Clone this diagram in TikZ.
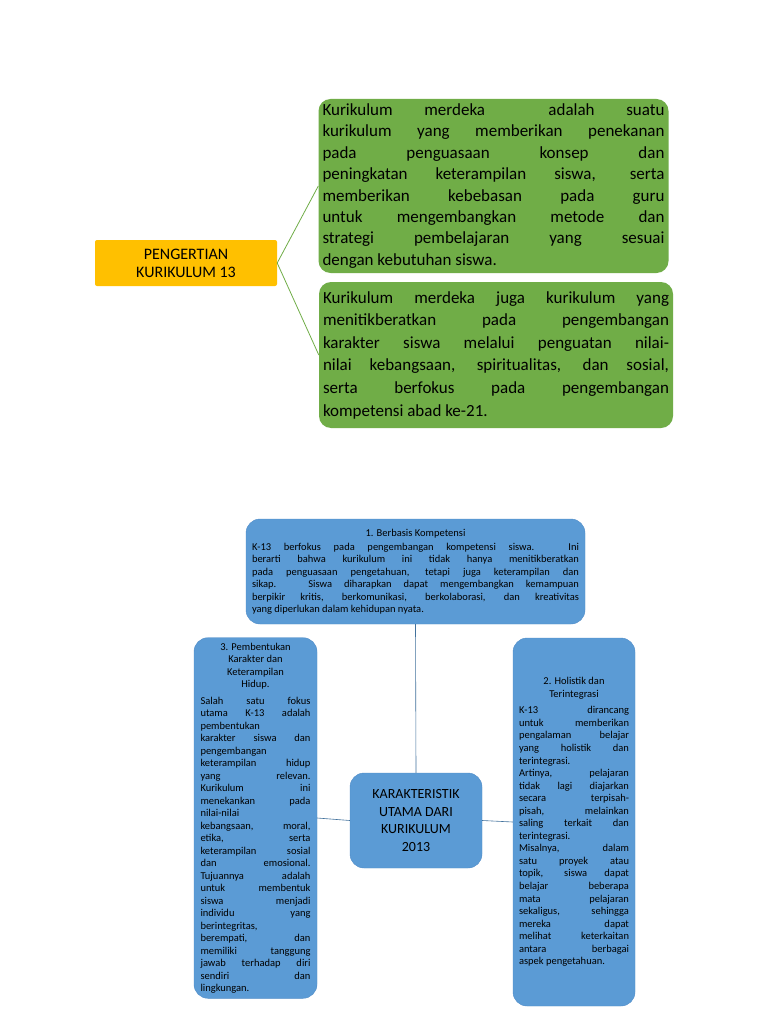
\documentclass[tikz,border=0pt]{standalone}
\usepackage{fontspec}
\setmainfont{Carlito}
\begin{document}
\begin{tikzpicture}[x=1pt,y=-1pt,
  greenbox/.style={draw=none,fill={rgb,255:red,112;green,173;blue,71},rounded corners=12pt,inner sep=4pt,align=justify},
  bluebox/.style={draw={rgb,255:red,80;green,140;blue,200},fill={rgb,255:red,91;green,155;blue,213},rounded corners=14pt,inner sep=5pt,align=justify},
  gline/.style={draw={rgb,255:red,112;green,173;blue,71},line width=0.8pt},
  bline/.style={draw={rgb,255:red,65;green,113;blue,156},line width=0.6pt}]
\useasboundingbox[fill=white] (0,0) rectangle (768,1024);
\node[fill={rgb,255:red,255;green,192;blue,0},rounded corners=2pt,minimum width=182pt,minimum height=46pt,align=center,inner sep=0pt,font=\fontsize{16}{18}\selectfont] (peng) at (186,263) {PENGERTIAN\\KURIKULUM 13};
\node[greenbox,minimum width=349pt,minimum height=174pt,text width=342pt,font=\fontsize{17}{21.4}\selectfont] (g1) at (493.5,186) {Kurikulum merdeka\ \ adalah suatu\linebreak kurikulum yang memberikan penekanan\linebreak pada penguasaan konsep dan\linebreak peningkatan keterampilan siswa, serta\linebreak memberikan kebebasan pada guru\linebreak untuk mengembangkan metode dan\linebreak strategi pembelajaran yang sesuai\linebreak dengan kebutuhan siswa.};
\node[greenbox,minimum width=354pt,minimum height=146pt,text width=346pt,font=\fontsize{17}{22.6}\selectfont] (g2) at (496,355) {Kurikulum merdeka juga kurikulum yang\linebreak menitikberatkan pada pengembangan\linebreak karakter siswa melalui penguatan nilai-\linebreak nilai kebangsaan, spiritualitas, dan sosial,\linebreak serta berfokus pada pengembangan\linebreak kompetensi abad ke-21.};
\draw[gline] (peng.east) -- (g1.west);
\draw[gline] (peng.east) -- (g2.west);

\node[bluebox,minimum width=339pt,minimum height=105pt,text width=327pt,font=\fontsize{10.5}{12.4}\selectfont] (b1) at (415.5,571.5) {{\centering 1. Berbasis Kompetensi\par}\vspace{2pt}K-13 berfokus pada pengembangan kompetensi siswa. Ini\linebreak berarti bahwa kurikulum ini tidak hanya menitikberatkan\linebreak pada penguasaan pengetahuan, tetapi juga keterampilan dan\linebreak sikap. Siswa diharapkan dapat mengembangkan kemampuan\linebreak berpikir kritis, berkomunikasi, berkolaborasi, dan kreativitas\linebreak yang diperlukan dalam kehidupan nyata.};
\node[bluebox,minimum width=123pt,minimum height=360pt,text width=110pt,font=\fontsize{10.5}{12.5}\selectfont] (b3) at (255.5,818) {{\centering 3. Pembentukan\\Karakter dan\\Keterampilan\\Hidup.\par}\vspace{4pt}Salah satu fokus\linebreak utama K-13 adalah\linebreak pembentukan\newline karakter siswa dan\linebreak pengembangan\newline keterampilan hidup\linebreak yang relevan.\linebreak Kurikulum ini\linebreak menekankan pada\linebreak nilai-nilai\newline kebangsaan, moral,\linebreak etika, serta\linebreak keterampilan sosial\linebreak dan emosional.\linebreak Tujuannya adalah\linebreak untuk membentuk\linebreak siswa menjadi\linebreak individu yang\linebreak berintegritas,\newline berempati, dan\linebreak memiliki tanggung\linebreak jawab terhadap diri\linebreak sendiri dan\linebreak lingkungan.};
\node[bluebox,minimum width=122pt,minimum height=368pt,text width=110pt,font=\fontsize{10.5}{12.55}\selectfont] (b2) at (574,822) {{\centering 2. Holistik dan\\Terintegrasi\par}\vspace{4pt}K-13 dirancang\linebreak untuk memberikan\linebreak pengalaman belajar\linebreak yang holistik dan\linebreak terintegrasi.\newline Artinya, pelajaran\linebreak tidak lagi diajarkan\linebreak secara terpisah-\linebreak pisah, melainkan\linebreak saling terkait dan\linebreak terintegrasi.\newline Misalnya, dalam\linebreak satu proyek atau\linebreak topik, siswa dapat\linebreak belajar beberapa\linebreak mata pelajaran\linebreak sekaligus, sehingga\linebreak mereka dapat\linebreak melihat keterkaitan\linebreak antara berbagai\linebreak aspek pengetahuan.};
\node[bluebox,minimum width=132pt,minimum height=95pt,align=center,inner sep=2pt,font=\fontsize{14}{17.5}\selectfont] (c) at (416,820.5) {KARAKTERISTIK\\UTAMA DARI\\KURIKULUM\\2013};
\draw[bline] (b1.south) -- (c.north);
\draw[bline] (b3.east) -- (c.west);
\draw[bline] (c.east) -- (b2.west);
\end{tikzpicture}
\end{document}
